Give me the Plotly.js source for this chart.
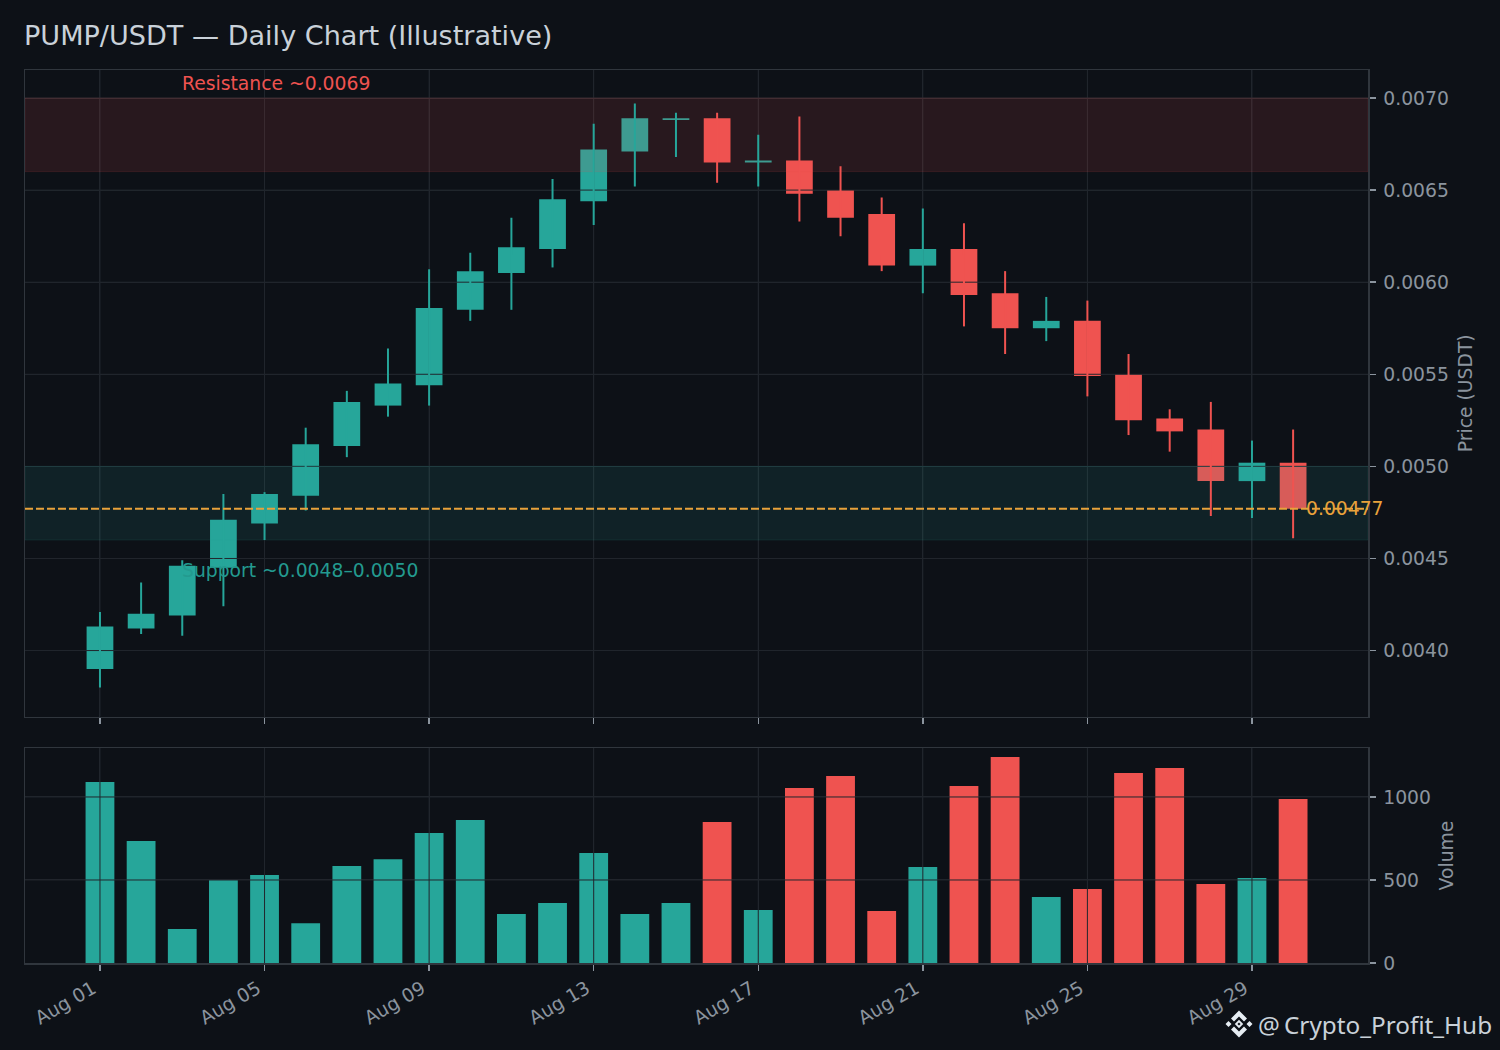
<!DOCTYPE html>
<html><head><meta charset="utf-8">
<script src="https://cdn.plot.ly/plotly-3.0.1.min.js"></script>
<style>html,body{margin:0;padding:0;background:#0d1117}</style></head>
<body><div id="chart" style="width:1500px;height:1050px"></div>
<script>
const dates = ["2025-08-01","2025-08-02","2025-08-03","2025-08-04","2025-08-05","2025-08-06","2025-08-07","2025-08-08","2025-08-09","2025-08-10","2025-08-11","2025-08-12","2025-08-13","2025-08-14","2025-08-15","2025-08-16","2025-08-17","2025-08-18","2025-08-19","2025-08-20","2025-08-21","2025-08-22","2025-08-23","2025-08-24","2025-08-25","2025-08-26","2025-08-27","2025-08-28","2025-08-29","2025-08-30"];
const open  = [.00390,.00412,.00419,.00445,.00469,.00484,.00511,.00533,.00544,.00585,.00605,.00618,.00644,.00671,.00688,.00689,.00665,.00666,.00650,.00637,.00609,.00618,.00594,.00575,.00579,.00550,.00526,.00520,.00492,.00502];
const close = [.00413,.00420,.00446,.00471,.00485,.00512,.00535,.00545,.00586,.00606,.00619,.00645,.00672,.00689,.00689,.00665,.00666,.00648,.00635,.00609,.00618,.00593,.00575,.00579,.00549,.00525,.00519,.00492,.00502,.00477];
const high  = [.00421,.00437,.00449,.00485,.00486,.00521,.00541,.00564,.00607,.00616,.00635,.00656,.00686,.00697,.00692,.00692,.00680,.00690,.00663,.00646,.00640,.00632,.00606,.00592,.00590,.00561,.00531,.00535,.00514,.00520];
const low   = [.00380,.00409,.00408,.00424,.00460,.00476,.00505,.00527,.00533,.00579,.00585,.00608,.00631,.00652,.00668,.00654,.00652,.00633,.00625,.00606,.00594,.00576,.00561,.00568,.00538,.00517,.00508,.00473,.00472,.00461];
const volume= [1090,735,205,500,530,240,585,625,783,861,295,361,663,295,361,849,319,1054,1127,313,578,1066,1241,398,446,1145,1175,476,512,988];
const xTickVals = ["2025-08-01","2025-08-05","2025-08-09","2025-08-13","2025-08-17","2025-08-21","2025-08-25","2025-08-29"];
const xTickText = ["Aug 01","Aug 05","Aug 09","Aug 13","Aug 17","Aug 21","Aug 25","Aug 29"];
const priceTicks = [.0040,.0045,.0050,.0055,.0060,.0065,.0070];
const volumeTicks = [0,500,1000];
const xRange = ["2025-07-30 04:16","2025-08-31 19:41"];
const priceRange = [.003642,.007152];
const volumeRange = [0,1295];
const resistanceZone = [.0066,.0070];
const supportZone = [.0046,.0050];
const lastPrice = .00477;

const BG="#0d1117",GRID="#21262d",SPINE="#30363d",MUTED="#8b949e",TITLE="#c9d1d9",UP="#26a69a",DOWN="#ef5350",ORANGE="#e9a23b";
const FONT="DejaVu Sans";
const colors = open.map((o,i)=>close[i]>=o?UP:DOWN);
const DAY=86400000;

function vlines(xs,r,xa,ya){const x=[],y=[];xs.forEach(v=>{x.push(v,v,null);y.push(r[0],r[1],null)});
  return {type:"scatter",mode:"lines",x,y,xaxis:xa,yaxis:ya,line:{color:GRID,width:1},hoverinfo:"skip",showlegend:false};}
function hlines(ys,xa,ya){const x=[],y=[];ys.forEach(v=>{x.push(xRange[0],xRange[1],null);y.push(v,v,null)});
  return {type:"scatter",mode:"lines",x,y,xaxis:xa,yaxis:ya,line:{color:GRID,width:1},hoverinfo:"skip",showlegend:false};}
function zone(z,rgb){return {type:"scatter",mode:"lines",x:[xRange[0],xRange[1],xRange[1],xRange[0],xRange[0]],y:[z[0],z[0],z[1],z[1],z[0]],
  fill:"toself",fillcolor:`rgba(${rgb},0.12)`,line:{color:`rgba(${rgb},0.12)`,width:1},xaxis:"x",yaxis:"y",hoverinfo:"skip",showlegend:false};}
const wicks=[];
dates.forEach((d,i)=>{wicks.push({type:"scatter",mode:"lines",x:[d,d],y:[low[i],high[i]],line:{color:colors[i],width:2},xaxis:"x",yaxis:"y",hoverinfo:"skip",showlegend:false});});

const traces=[
 {type:"bar",name:"Body",x:dates,base:open.map((o,i)=>Math.min(o,close[i])),y:open.map((o,i)=>Math.abs(close[i]-o)),width:0.65*DAY,marker:{color:colors,line:{width:0}},xaxis:"x",yaxis:"y",showlegend:false},
 {type:"bar",name:"Volume",x:dates,y:volume,width:0.7*DAY,marker:{color:colors,line:{width:0}},xaxis:"x2",yaxis:"y2",showlegend:false},
 vlines(xTickVals,priceRange,"x","y"),hlines(priceTicks,"x","y"),
 vlines(xTickVals,volumeRange,"x2","y2"),hlines(volumeTicks.slice(1),"x2","y2"),
 zone(resistanceZone,"239,83,80"),zone(supportZone,"38,166,154"),
 ...wicks,
 {type:"scatter",mode:"lines",x:xRange,y:[lastPrice,lastPrice],line:{color:ORANGE,width:2,dash:"8px,3px"},xaxis:"x",yaxis:"y",hoverinfo:"skip",showlegend:false}
];
const axisCommon={showgrid:true,gridcolor:GRID,gridwidth:1,zeroline:false,showline:true,linecolor:SPINE,linewidth:1.5,mirror:true,ticks:"outside",ticklen:6,tickwidth:1.5,tickcolor:MUTED,tickfont:{family:FONT,size:18.75,color:MUTED}};
function diamond(cx,cy,r){return `M${cx-r},${cy} L${cx},${cy+r} L${cx+r},${cy} L${cx},${cy-r} Z`;}
const logoPath=[diamond(-10.5,0,3),diamond(10.5,0,3),
 "M0,4.2 L4.2,0 L0,-4.2 L-4.2,0 Z M0,1.6 L-1.6,0 L0,-1.6 L1.6,0 Z",
 "M0,13.5 L8,5.5 L5,2.5 L0,7.5 L-5,2.5 L-8,5.5 Z",
 "M0,-13.5 L8,-5.5 L5,-2.5 L0,-7.5 L-5,-2.5 L-8,-5.5 Z"].join(" ");
const PL=25,PT=70,PW=1343,PH=893;   // plot area in page pixels
const px=(x)=>(x-PL)/PW, py=(y)=>(PT+PH-y)/PH;
const layout={
 width:1500,height:1050,paper_bgcolor:BG,plot_bgcolor:BG,
 margin:{l:PL,r:1500-PL-PW,t:PT,b:1050-PT-PH},barmode:"overlay",showlegend:false,hovermode:false,
 title:{text:"PUMP/USDT — Daily Chart (Illustrative)",font:{family:FONT,size:27.08,color:TITLE},x:24/1500,xanchor:"left",y:1-36/1050,yanchor:"middle"},
 xaxis:{...axisCommon,type:"date",range:xRange,tickvals:xTickVals,ticktext:xTickText,showticklabels:false,anchor:"y",domain:[0,1]},
 yaxis:{...axisCommon,ticklabelstandoff:4,domain:[py(716.5),1],range:priceRange,tickvals:priceTicks,tickformat:".4f",side:"right",anchor:"x",title:{text:"Price (USDT)",font:{family:FONT,size:18.75,color:MUTED},standoff:11}},
 xaxis2:{...axisCommon,type:"date",range:xRange,matches:"x",tickvals:xTickVals,ticktext:xTickText,tickangle:-30,ticklabelshift:-7,anchor:"y2",domain:[0,1]},
 yaxis2:{...axisCommon,ticklabelstandoff:4,domain:[0,py(748)],range:volumeRange,tickvals:volumeTicks,side:"right",anchor:"x2",title:{text:"Volume",font:{family:FONT,size:18.75,color:MUTED},standoff:10}},
 annotations:[
  {text:"Resistance ~0.0069",x:"2025-08-03",y:.007,xref:"x",yref:"y",xanchor:"left",yanchor:"bottom",xshift:-1,yshift:3,showarrow:false,borderpad:0,font:{family:FONT,size:18.75,color:DOWN}},
  {text:"Support ~0.0048–0.0050",x:"2025-08-03",y:.004435,xref:"x",yref:"y",xanchor:"left",yanchor:"middle",xshift:-1,showarrow:false,borderpad:0,font:{family:FONT,size:18.75,color:"#239a8f"}},
  {text:String(lastPrice),x:"2025-08-30 07:00",y:lastPrice,xref:"x",yref:"y",xanchor:"left",yanchor:"middle",showarrow:false,borderpad:0,font:{family:FONT,size:18.75,color:ORANGE}},
  {text:"@",x:px(1257),y:py(1024),xref:"paper",yref:"paper",xanchor:"left",yanchor:"middle",showarrow:false,borderpad:0,font:{family:"Noto Sans",size:24.3,color:TITLE}},
  {text:"Crypto_Profit_Hub",x:px(1283),y:py(1024),xref:"paper",yref:"paper",xanchor:"left",yanchor:"middle",showarrow:false,borderpad:0,font:{family:"Noto Sans",size:24.3,color:TITLE}}
 ],
 shapes:[{type:"path",xref:"paper",yref:"paper",xsizemode:"pixel",ysizemode:"pixel",xanchor:px(1239),yanchor:py(1024),path:logoPath,fillcolor:"#e6edf3",line:{width:0},layer:"above"}]
};
Plotly.newPlot("chart",traces,layout,{staticPlot:true,displayModeBar:false});
</script></body></html>
